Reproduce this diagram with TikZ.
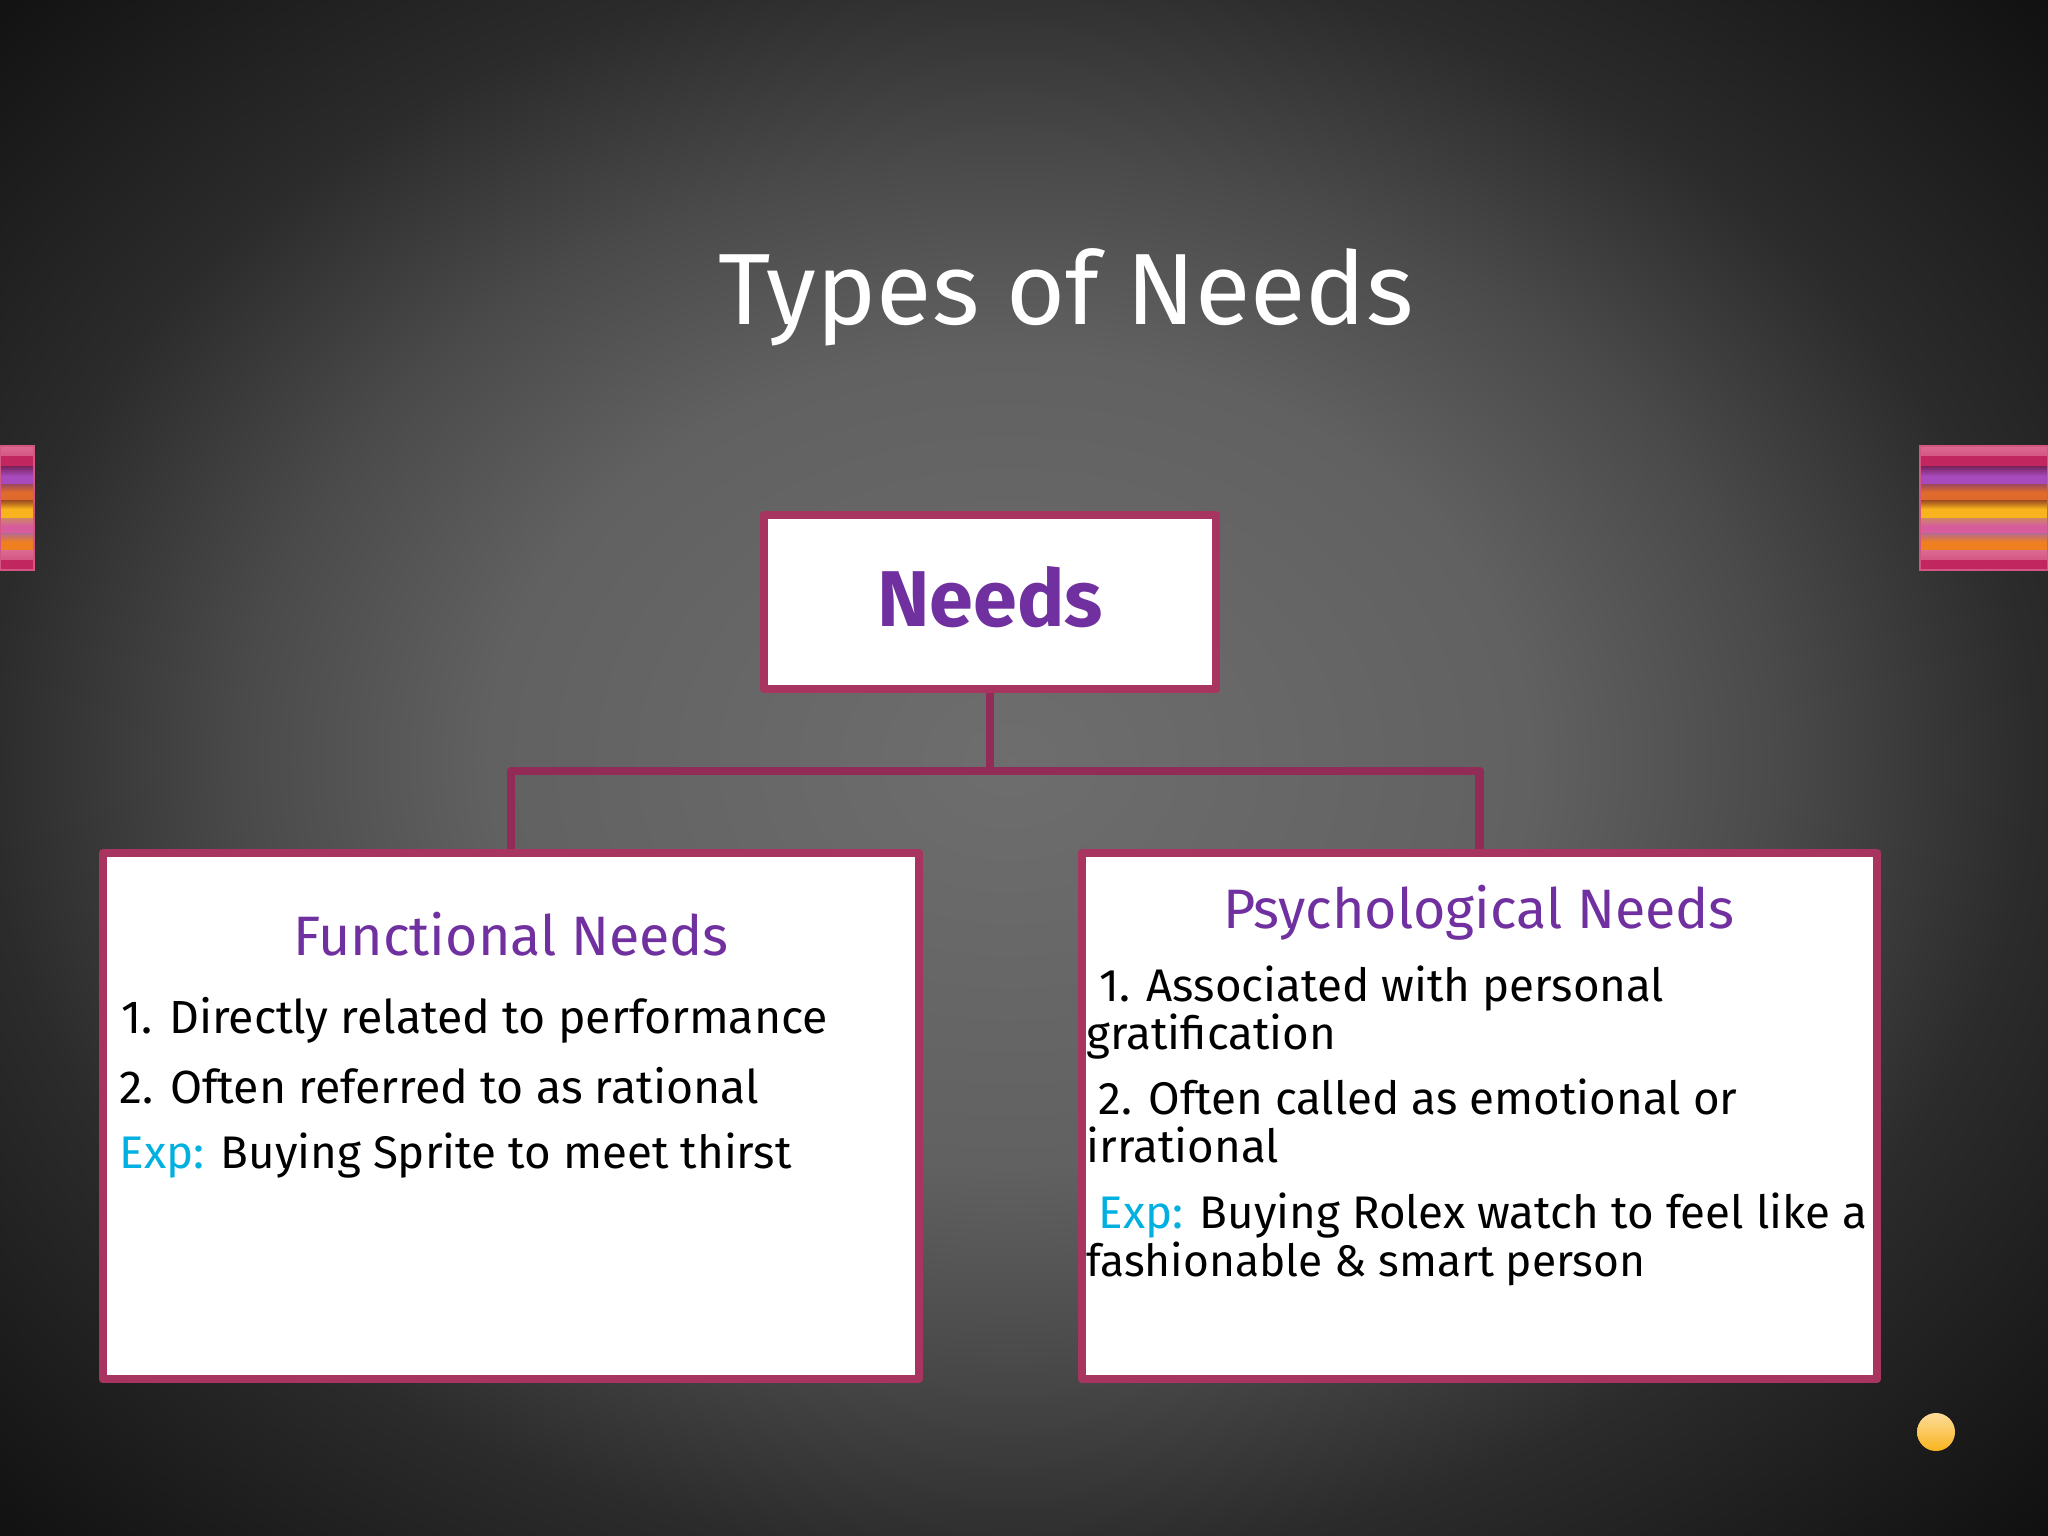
\documentclass[tikz,border=0pt]{standalone}
\usepackage{fontspec}
\setmainfont{Fira Sans}
\definecolor{rimred}{HTML}{A83560}
\definecolor{linkred}{HTML}{922B55}
\definecolor{headpurple}{HTML}{7030A0}
\definecolor{expblue}{HTML}{00B0E0}
\definecolor{bandpale}{HTML}{DB6A92}
\definecolor{bandcrimson}{HTML}{C2265E}
\definecolor{bandpurple}{HTML}{A64ABC}
\definecolor{bandrust}{HTML}{DF6A2C}
\definecolor{bandamber}{HTML}{F9B31E}
\definecolor{bandpink}{HTML}{D65C9E}
\definecolor{bandorange}{HTML}{F0801F}
\pgfdeclareradialshading{bgglow}{\pgfpoint{0bp}{0bp}}{
  color(0bp)=(black!57); color(9bp)=(black!62);
  color(13.3bp)=(black!71); color(17.7bp)=(black!83); color(25bp)=(black!94); color(50bp)=(black!94)}
\newcommand{\glowstrip}[2]{
  \shade [top color=bandpale, bottom color=bandpale!70!bandcrimson] (#1,446) rectangle (#2,456);
  \fill [fill=bandcrimson] (#1,456) rectangle (#2,466);
  \shade [top color=bandcrimson!50!black!70!bandpurple, bottom color=bandpurple] (#1,466) rectangle (#2,476);
  \fill [fill=bandpurple] (#1,476) rectangle (#2,484);
  \shade [top color=bandpurple!50!bandrust!80!black, bottom color=bandrust] (#1,484) rectangle (#2,492);
  \fill [fill=bandrust] (#1,492) rectangle (#2,500);
  \shade [top color=bandrust!70!black, bottom color=bandamber] (#1,500) rectangle (#2,509);
  \fill [fill=bandamber] (#1,509) rectangle (#2,518);
  \shade [top color=bandamber!50!bandpink!75!gray, bottom color=bandpink] (#1,518) rectangle (#2,526);
  \fill [fill=bandpink] (#1,526) rectangle (#2,533);
  \shade [top color=bandpink!60!gray, bottom color=bandorange] (#1,533) rectangle (#2,542);
  \fill [fill=bandorange] (#1,542) rectangle (#2,550);
  \shade [top color=bandpale, bottom color=bandpale!70!bandcrimson] (#1,550) rectangle (#2,560);
  \fill [fill=bandcrimson] (#1,560) rectangle (#2,570);
  \draw [bandpale!70!bandcrimson, line width=.5pt] (#1,446) rectangle (#2,570);
}
\begin{document}
\begin{tikzpicture}[x=0.01cm, y=-0.01cm]
  \tikzstyle{block} = [draw=rimred, fill=white, rectangle, line width=2.4pt, line join=round]
  \tikzstyle{head} = [text=headpurple, font=\fontsize{15.8}{20}\selectfont, anchor=base, inner sep=0pt]
  \tikzstyle{body} = [text=black, font=\fontsize{13}{16}\selectfont, anchor=base west, inner sep=0pt]
  \tikzstyle{link} = [draw=linkred, line width=2.4pt, line join=round]

  \useasboundingbox (0,0) rectangle (2048,1536);
  \begin{scope}
    \clip (0,0) rectangle (2048,1536);
    \fill [black!94] (0,0) rectangle (2048,1536);
    \shade [shading=bgglow] (1010,760) ellipse (1444 and 1130);
  \end{scope}

  \glowstrip{1920}{2048}
  \glowstrip{0}{34}
  \shade [top color=bandamber!45!white, middle color=bandamber!90!black, bottom color=bandamber] (1936,1432) circle (19);

  \node [text=white, font=\fontsize{28.8}{35}\selectfont, anchor=base, inner sep=0pt] (title) at (1066,324) {Types of Needs};

  \node [block, minimum width=4.52cm, minimum height=1.74cm] (needs) at (990,602) {};
  \node [block, minimum width=8.16cm, minimum height=5.26cm] (functional) at (511,1116) {};
  \node [block, minimum width=7.95cm, minimum height=5.26cm] (psychological) at (1479.5,1116) {};
  \coordinate (bus) at (990,771);

  \draw [link] (needs) -- (bus);
  \draw [link] (bus) -| (functional);
  \draw [link] (bus) -| (psychological);

  \node [text=headpurple, font=\bfseries\fontsize{22.5}{27}\selectfont, anchor=base, inner sep=0pt] (needslabel) at (990,626) {Needs};

  \node [head] (funchead) at (511,955) {Functional Needs};
  \node [body, font=\fontsize{13.2}{16}\selectfont] (funcone) at (121,1033) {1. Directly related to performance};
  \node [body, font=\fontsize{13.2}{16}\selectfont] (functwo) at (119,1103) {2. Often referred to as rational};
  \node [body] (funcexp) at (119,1168) {{\color{expblue}Exp:} Buying Sprite to meet thirst};

  \node [head] (psychead) at (1479,928) {Psychological Needs};
  \node [body] (psyone) at (1099,1001) {1. Associated with personal};
  \node [body] (psyonewrap) at (1086,1049) {gratification};
  \node [body] (psytwo) at (1098,1114) {2. Often called as emotional or};
  \node [body] (psytwowrap) at (1086,1162) {irrational};
  \node [body] (psyexp) at (1098,1228) {{\color{expblue}Exp:} Buying Rolex watch to feel like a};
  \node [body, font=\fontsize{12.6}{16}\selectfont] (psyexpwrap) at (1086,1276) {fashionable \& smart person};
\end{tikzpicture}
\end{document}
